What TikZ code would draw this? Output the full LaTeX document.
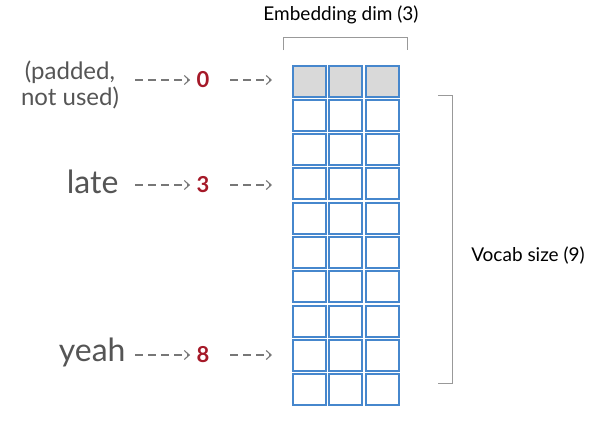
\documentclass[tikz,border=0pt]{standalone}
\usepackage{fontspec}
\setmainfont{Lato}
\usetikzlibrary{arrows.meta}
\definecolor{gridblue}{RGB}{70,135,205}
\definecolor{numred}{RGB}{165,25,40}
\definecolor{lbl}{RGB}{85,85,85}
\tikzset{
 cell/.style={draw=gridblue,line width=2pt,minimum width=33pt,minimum height=31pt,inner sep=0pt},
 darr/.style={draw=lbl!80,line width=1.1pt,dash pattern=on 8pt off 5pt,-{Straight Barb[length=5pt,width=9pt]}},
 word/.style={text=lbl,font=\fontsize{32}{34}\selectfont,anchor=east},
 num/.style={text=numred,font=\fontsize{22}{24}\selectfont\bfseries},
 brk/.style={draw=gray!80,line width=1pt}
}
\begin{document}
\begin{tikzpicture}[x=1pt,y=-1pt]
\useasboundingbox (0,0) rectangle (600,432);
\foreach \r in {0,...,9}{
 \foreach \c in {0,1,2}{
  \ifnum\r=0
   \node[cell,fill=gray!30] (c\r\c) at ({309+36.5*\c},{81+34.3*\r}) {};
  \else
   \node[cell] (c\r\c) at ({309+36.5*\c},{81+34.3*\r}) {};
  \fi
 }}
% labels
\node[text=lbl,font=\fontsize{24}{26}\selectfont,align=center] (pad) at (70,85) {(padded,\\not used)};
\node[word] (late) at (122,182) {late};
\node[word] (yeah) at (129,352) {yeah};
\node[num] (n0) at (203,80) {0};
\node[num] (n3) at (203,185) {3};
\node[num] (n8) at (203,355) {8};
\coordinate (a0) at (135,80); \coordinate (b0) at (230,80); \coordinate (e0) at (272,80);
\draw[darr,shorten >=3pt] (a0) -- (n0.west);
\draw[darr] (b0) -- (e0);
\coordinate (a3) at (135,185); \coordinate (b3) at (230,185); \coordinate (e3) at (272,185);
\draw[darr,shorten >=3pt] (a3) -- (n3.west);
\draw[darr] (b3) -- (e3);
\coordinate (a8) at (135,355); \coordinate (b8) at (230,355); \coordinate (e8) at (272,355);
\draw[darr,shorten >=3pt] (a8) -- (n8.west);
\draw[darr] (b8) -- (e8);
% top bracket
\draw[brk] (283,50) -- (283,37) -- (407,37) -- (407,50);
\node[font=\fontsize{19}{21}\selectfont] (ed) at (341,15) {Embedding dim (3)};
% right bracket
\draw[brk] (438,95) -- (452,95) -- (452,383) -- (438,383);
\node[font=\fontsize{19}{21}\selectfont] (vs) at (528,256) {Vocab size (9)};
\end{tikzpicture}
\end{document}
